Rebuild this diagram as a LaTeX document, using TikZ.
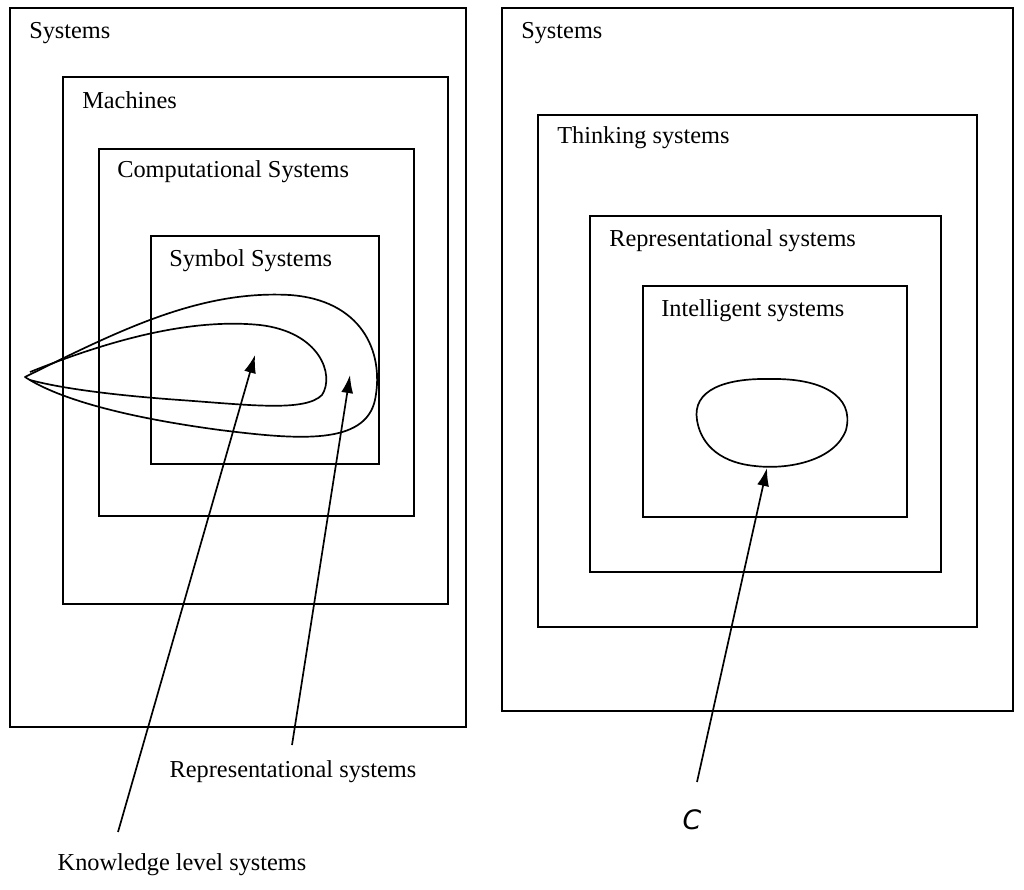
\documentclass[tikz,border=0pt]{standalone}
\usepackage{fontspec}
\setmainfont{Liberation Serif}
\newfontfamily\sansC{DejaVu Sans}
\usetikzlibrary{positioning,arrows.meta}
\begin{document}
\begin{tikzpicture}[x=0.025cm,y=-0.025cm,
        box/.style={draw,thick},
        lbl/.style={anchor=north west,inner sep=0pt,font=\fontsize{17.3}{19}\selectfont},
        arr/.style={line width=1.2pt,-{Latex[length=4.5mm,width=3mm]}}]
        \useasboundingbox (0,0) rectangle (1024,889);
        % left panel
        \draw[box] (10,8) rectangle (466,727);
        \node[lbl] (sysL) at (29,22) {Systems};
        \draw[box] (63,77) rectangle (448,604);
        \node[lbl] (mach) at (82,91) {Machines};
        \draw[box] (99,149) rectangle (414,516);
        \node[lbl] (comp) at (117,160) {Computational Systems};
        \draw[box] (151,236) rectangle (379,464);
        \node[lbl] (symb) at (169,249) {Symbol Systems};
        % teardrops
        \draw[very thick,line join=round] (25,377) .. controls (120,330) and (200,290) .. (290,295)
            .. controls (360,300) and (385,350) .. (375,400)
            .. controls (365,445) and (300,440) .. (220,430)
            .. controls (130,418) and (60,400) .. (25,377) -- cycle;
        \draw[very thick] (30,372) .. controls (110,340) and (190,318) .. (260,325)
            .. controls (320,332) and (335,375) .. (322,395)
            .. controls (305,412) and (250,405) .. (180,400)
            .. controls (110,395) and (60,388) .. (30,380);
        \coordinate (kTip) at (255,355);
        \coordinate (rTip) at (350,375);
        \node[lbl,anchor=center] (kls) at (182,865) {Knowledge level systems};
        \node[lbl,anchor=center] (rep) at (293,772) {Representational systems};
        \coordinate (kStart) at (118,832);
        \coordinate (rStart) at (292,745);
        \draw[arr] (kStart) -- (kTip);
        \draw[arr] (rStart) -- (rTip);
        % right panel
        \draw[box] (502,8) rectangle (1013,711);
        \node[lbl] (sysR) at (521,22) {Systems};
        \draw[box] (538,115) rectangle (977,627);
        \node[lbl] (think) at (557,126) {Thinking systems};
        \draw[box] (590,216) rectangle (941,572);
        \node[lbl] (repR) at (609,229) {Representational systems};
        \draw[box] (643,286) rectangle (907,517);
        \node[lbl] (intel) at (661,299) {Intelligent systems};
        \draw[very thick] (697,420) .. controls (692,390) and (725,378) .. (770,379)
            .. controls (820,378) and (855,395) .. (846,430)
            .. controls (835,460) and (790,470) .. (755,466)
            .. controls (715,462) and (700,440) .. (697,420) -- cycle;
        \coordinate (cTip) at (767,468);
        \node[anchor=center,font=\sansC\itshape\fontsize{19}{21}\selectfont] (C) at (692,820) {C};
        \coordinate (cStart) at (697,782);
        \draw[arr] (cStart) -- (cTip);
\end{tikzpicture}
\end{document}
